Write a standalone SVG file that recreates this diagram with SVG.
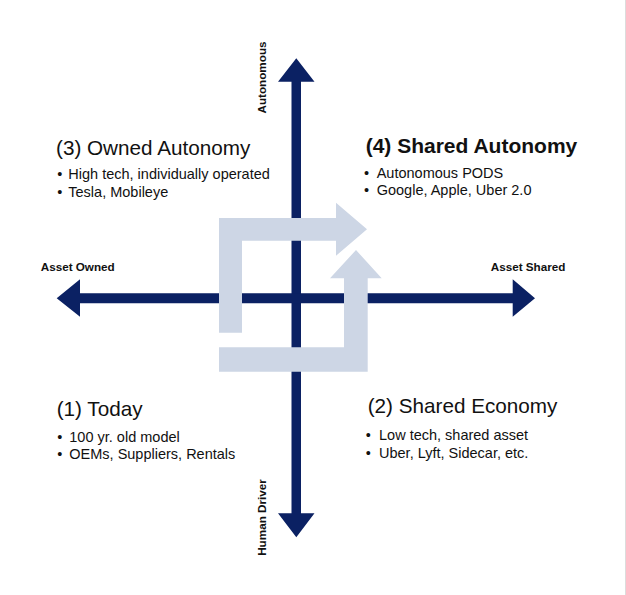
<svg xmlns="http://www.w3.org/2000/svg" width="626" height="595" viewBox="0 0 626 595">
<style>
.axis{fill:#0b2163}
.flow{fill:#cdd6e5}
.ax{font-family:"Liberation Sans",Arial,sans-serif;font-weight:bold;font-size:11.7px;fill:#111}
.ttl{font-family:"Liberation Sans",Arial,sans-serif;font-size:20.7px;fill:#111}
.ttl.b{font-weight:bold;font-size:21px}
.bl{font-family:"Liberation Sans",Arial,sans-serif;font-size:14.5px;fill:#111}
</style>
<rect x="0" y="0" width="626" height="595" fill="#fff"/>
<line x1="625.5" y1="0" x2="625.5" y2="595" stroke="#dcdcdc" stroke-width="1"/>
<g id="connectors">
  <polygon id="axis-vertical" class="axis" points="296.3,58.3 314.5,81.7 301,81.7 301,513.3 314.5,513.3 296.3,537.3 278,513.3 291.5,513.3 291.5,81.7 278,81.7"/>
  <polygon id="axis-horizontal" class="axis" points="56.7,298.3 80,279.3 80,293.3 512.7,293.3 512.7,279.3 535,298.3 512.7,316.7 512.7,303.3 80,303.3 80,316.7"/>
</g>
<g id="flow-arrows">
  <polygon id="arrow-owned" class="flow" points="219,332.7 219,218 336,218 336,202.7 367,229.3 336,255.7 336,240.7 242,240.7 242,332.7"/>
  <polygon id="arrow-shared" class="flow" points="219,347.3 344,347.3 344,278.3 330,278.3 356,250 381.7,278.3 367.7,278.3 367.7,371.7 219,371.7"/>
</g>
<g id="axis-labels">
  <text class="ax" x="266" y="77.5" text-anchor="middle" transform="rotate(-90 266 77.5)">Autonomous</text>
  <text class="ax" x="266" y="517.5" text-anchor="middle" transform="rotate(-90 266 517.5)">Human Driver</text>
  <text class="ax" x="40.7" y="270.7">Asset Owned</text>
  <text class="ax" x="490.7" y="270.7">Asset Shared</text>
</g>
<g id="q3-owned-autonomy">
  <text class="ttl" x="56" y="155">(3) Owned Autonomy</text>
  <text class="bl" x="57.3" y="179.3">•</text>
  <text class="bl" x="68.3" y="179.3">High tech, individually operated</text>
  <text class="bl" x="57.3" y="196.7">•</text>
  <text class="bl" x="68.3" y="196.7">Tesla, Mobileye</text>
</g>
<g id="q4-shared-autonomy">
  <text class="ttl b" x="365.7" y="153.3">(4) Shared Autonomy</text>
  <text class="bl" x="364" y="177.7">•</text>
  <text class="bl" x="376.7" y="177.7">Autonomous PODS</text>
  <text class="bl" x="364" y="195">•</text>
  <text class="bl" x="376.7" y="195">Google, Apple, Uber 2.0</text>
</g>
<g id="q1-today">
  <text class="ttl" x="56.7" y="416">(1) Today</text>
  <text class="bl" x="57.3" y="441.7">•</text>
  <text class="bl" x="69.3" y="441.7">100 yr. old model</text>
  <text class="bl" x="57.3" y="459.3">•</text>
  <text class="bl" x="69.3" y="459.3">OEMs, Suppliers, Rentals</text>
</g>
<g id="q2-shared-economy">
  <text class="ttl" x="367.7" y="413.3">(2) Shared Economy</text>
  <text class="bl" x="365.7" y="440">•</text>
  <text class="bl" x="379" y="440">Low tech, shared asset</text>
  <text class="bl" x="365.7" y="457.7">•</text>
  <text class="bl" x="379" y="457.7">Uber, Lyft, Sidecar, etc.</text>
</g>
</svg>
